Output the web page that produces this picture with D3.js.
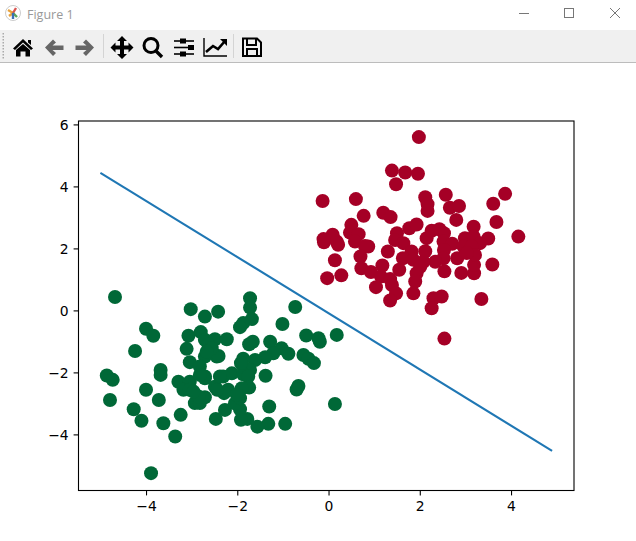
<!DOCTYPE html>
<html>
<head>
<meta charset="utf-8">
<script src="https://cdn.jsdelivr.net/npm/d3@7"></script>
<style>
  html, body { margin: 0; padding: 0; background: #fff; overflow: hidden; }
  svg { display: block; }
  .tick text { font-family: "DejaVu Sans", sans-serif; font-size: 13.9px; fill: #000; }
</style>
</head>
<body>
<div id="chart"></div>
<script>
const redPoints = [
  [1.98,5.59],[1.39,4.51],[1.68,4.45],[1.96,4.41],[1.48,4.07],[-0.13,3.53],[0.60,3.59],[0.77,3.05],
  [1.20,3.15],[1.36,3.01],[2.12,3.65],[2.17,3.43],[2.17,3.21],[2.57,3.73],[2.66,3.31],[2.86,3.37],
  [2.80,2.92],[3.61,3.44],[3.87,3.76],[3.68,2.85],[4.16,2.38],[0.50,2.76],[0.47,2.51],[0.66,2.46],
  [0.09,2.44],[-0.10,2.20],[-0.11,2.30],[0.21,2.12],[0.18,2.22],[0.58,2.22],[0.87,2.06],[0.80,2.08],
  [0.70,1.74],[0.14,1.62],[0.72,1.36],[0.28,1.13],[-0.03,1.04],[0.93,1.24],[1.18,1.45],[1.15,1.09],
  [1.04,0.75],[1.35,1.01],[1.39,0.82],[1.48,0.55],[1.35,0.32],[1.55,1.31],[1.30,1.90],[1.50,2.49],
  [1.46,2.27],[1.64,2.17],[1.77,2.65],[1.93,2.77],[2.15,2.33],[2.26,2.57],[2.43,2.62],[2.53,2.49],
  [2.52,2.22],[2.71,2.15],[2.53,1.95],[2.52,1.68],[2.34,1.57],[2.54,1.26],[2.12,1.91],[1.82,1.90],
  [1.63,1.68],[1.86,1.63],[2.08,1.57],[2.01,1.41],[1.93,1.20],[1.90,0.93],[1.86,0.55],[2.30,0.39],
  [2.48,0.45],[2.26,0.07],[3.35,0.37],[2.54,-0.91],[2.82,1.68],[2.91,1.21],[3.19,1.20],[3.19,1.47],
  [3.59,1.48],[3.18,2.70],[3.50,2.32],[2.99,2.33],[3.18,2.38],[3.32,2.17],[2.96,2.06],[3.14,2.06],
  [3.21,1.79],[3.03,1.85]
];
const greenPoints = [
  [-4.68,0.43],[-3.02,0.04],[-2.71,-0.20],[-2.42,-0.04],[-4.00,-0.59],[-3.84,-0.82],[-4.24,-1.31],
  [-3.07,-0.82],[-3.11,-1.24],[-2.80,-0.70],[-2.71,-0.95],[-2.49,-0.93],[-3.04,-1.67],[-2.71,-1.49],
  [-2.82,-1.81],[-2.71,-2.13],[-2.45,-1.49],[-3.68,-1.92],[-3.68,-2.08],[-4.86,-2.10],[-4.73,-2.24],
  [-3.29,-2.30],[-3.04,-2.30],[-1.72,0.39],[-1.72,0.09],[-1.68,-0.28],[-1.87,-0.41],[-1.94,-0.54],
  [-0.73,0.11],[-1.01,-0.44],[0.18,-0.79],[-0.49,-0.81],[-0.22,-0.90],[-0.19,-1.01],[-1.28,-1.01],
  [-1.66,-1.01],[-1.74,-1.09],[-2.23,-0.93],[-2.41,-1.47],[-1.03,-1.22],[-0.88,-1.40],[-1.21,-1.38],
  [-1.39,-1.51],[-1.61,-1.60],[-1.87,-1.56],[-0.55,-1.44],[-0.44,-1.56],[-0.32,-1.70],[-1.38,-2.11],
  [-2.12,-2.03],[-2.31,-2.13],[-1.87,-1.81],[-1.72,-1.92],[-1.87,-2.06],[-1.76,-2.13],[-0.66,-2.44],
  [-0.70,-2.55],[0.14,-3.02],[-1.30,-3.10],[-0.95,-3.66],[-1.32,-3.66],[-1.56,-3.75],[-1.78,-3.50],
  [-1.92,-3.53],[-2.47,-3.50],[-2.27,-3.21],[-1.94,-3.19],[-2.05,-3.00],[-1.94,-2.83],[-1.74,-2.49],
  [-1.90,-2.51],[-2.20,-2.56],[-2.29,-2.67],[-2.49,-2.46],[-2.44,-2.56],[-4.79,-2.89],[-4.00,-2.56],
  [-3.72,-2.89],[-4.27,-3.19],[-4.10,-3.56],[-3.62,-3.64],[-3.24,-3.37],[-3.36,-4.07],[-3.89,-5.25],
  [-3.18,-2.56],[-3.04,-2.56],[-2.71,-2.19],[-2.93,-2.99],[-2.82,-2.99],[-2.71,-2.80],[-2.85,-2.78],
  [-2.96,-2.62],[-2.63,-1.11],[-2.56,-1.22],[-2.67,-1.33],[-2.38,-2.13],[-2.01,-2.72],[-2.82,-2.08],
  [-1.92,-1.70]
];
const boundary = [[-5.0,4.44],[4.9,-4.53]];
const xTicks = [-4,-2,0,2,4];
const yTicks = [-4,-2,0,2,4,6];
const xDomain = [-5.48,5.38];
const yDomain = [-5.81,6.11];

const svg = d3.select("#chart").append("svg").attr("width",636).attr("height",541);

// window chrome
svg.append("rect").attr("width",636).attr("height",541).attr("fill","#fff");
const logo = svg.append("g").attr("transform","translate(13,13)");
logo.append("circle").attr("r",7.5).attr("fill","#fff").attr("stroke","#ccc");
[["#e8a33d",-5,-3],["#e8a33d",-4,3],["#d9534f",3,-5],["#5aa55a",4,4],["#3b6fb5",0,6]].forEach(d => {
  logo.append("line").attr("x1",0).attr("y1",0).attr("x2",d[1]).attr("y2",d[2])
    .attr("stroke",d[0]).attr("stroke-width",2.4);
});
svg.append("text").attr("x",27).attr("y",18.5).text("Figure 1")
  .attr("font-family","'Open Sans', sans-serif").attr("font-size",12.5).attr("fill","#999");
const win = svg.append("g").attr("stroke","#777").attr("fill","none");
win.append("line").attr("x1",519).attr("x2",529).attr("y1",13.5).attr("y2",13.5);
win.append("rect").attr("x",564.5).attr("y",8.5).attr("width",9).attr("height",9);
win.append("path").attr("d","M610,8L620,18M620,8L610,18");

svg.append("rect").attr("y",30).attr("width",636).attr("height",32).attr("fill","#f0f0f0");
svg.append("line").attr("x1",0).attr("x2",636).attr("y1",62.5).attr("y2",62.5).attr("stroke","#bcbcbc");
d3.range(33,60,3).forEach(y => {
  svg.append("rect").attr("x",2.5).attr("y",y).attr("width",1.5).attr("height",1.5).attr("fill","#aaa");
});
[103.5,233.5].forEach(x => {
  svg.append("line").attr("x1",x).attr("x2",x).attr("y1",34).attr("y2",58).attr("stroke","#d4d4d4");
});
const icons = svg.append("g");
// home
icons.append("path").attr("fill","#000")
  .attr("d","M23,39L33,48.5L31,50L23,42.5L15,50L13,48.5ZM16,50L23,44L30,50V56.5H25.5V51.5H20.5V56.5H16ZM28,40H31V45L28,42.5Z");
// back, forward
icons.append("path").attr("fill","#666")
  .attr("d","M45,47.5L53,39.5L56,42.5L52.5,45.5H63.5V50H52.5L56,53L53,56Z");
icons.append("path").attr("fill","#666")
  .attr("d","M94,47.5L86,39.5L83,42.5L86.5,45.5H75.5V50H86.5L83,53L86,56Z");
// pan
icons.append("path").attr("fill","#000")
  .attr("d","M122,36L127,41H124V45.5H128.5V42.5L133.5,47.5L128.5,52.5V49.5H124V54H127L122,59L117,54H120V49.5H115.5V52.5L110.5,47.5L115.5,42.5V45.5H120V41H117Z");
// zoom
icons.append("circle").attr("cx",151).attr("cy",45.5).attr("r",7).attr("fill","none").attr("stroke","#000").attr("stroke-width",3);
icons.append("line").attr("x1",156).attr("y1",51).attr("x2",162).attr("y2",57).attr("stroke","#000").attr("stroke-width",3.4);
// sliders
[[41,180],[47.5,188],[54,180]].forEach(d => {
  icons.append("line").attr("x1",174).attr("x2",194).attr("y1",d[0]).attr("y2",d[0]).attr("stroke","#000").attr("stroke-width",1.6);
  icons.append("rect").attr("x",d[1]).attr("y",d[0]-2.5).attr("width",6).attr("height",5).attr("fill","#000");
});
// chart icon
icons.append("path").attr("fill","none").attr("stroke","#000").attr("stroke-width",1.4).attr("d","M204,38V56H227");
icons.append("path").attr("fill","none").attr("stroke","#000").attr("stroke-width",2.6).attr("d","M206,52L213,46L218,49L225,41");
icons.append("path").attr("fill","#000").attr("d","M220,39H227V46Z");
// save
icons.append("path").attr("fill","none").attr("stroke","#000").attr("stroke-width",2)
  .attr("d","M243,38.5H257L261,42.5V56H243ZM247,38.5V45H256V38.5M247,56V49H257V56");

// plot
const x = d3.scaleLinear().domain(xDomain).range([78.5,574]);
const y = d3.scaleLinear().domain(yDomain).range([490.5,121]);

const marks = [
  {pts: redPoints, color: "#a50026"},
  {pts: greenPoints, color: "#006837"}
];
marks.forEach(m => {
  svg.append("g").selectAll("circle").data(m.pts).join("circle")
    .attr("cx", d => x(d[0]))
    .attr("cy", d => y(d[1]))
    .attr("r", 7)
    .attr("fill", m.color);
});

const line = d3.line().x(d => x(d[0])).y(d => y(d[1]));
svg.append("path").datum(boundary).attr("d", line)
  .attr("fill","none").attr("stroke","#1f77b4").attr("stroke-width",2.08);

const xAxis = svg.append("g").attr("transform","translate(0,490.5)")
  .call(d3.axisBottom(x).tickValues(xTicks).tickSize(4.9).tickPadding(5.4).tickSizeOuter(0));
const yAxis = svg.append("g").attr("transform","translate(78.5,0)")
  .call(d3.axisLeft(y).tickValues(yTicks).tickSize(4.9).tickPadding(4.9).tickSizeOuter(0));
yAxis.selectAll("text").attr("dy","0.38em");
[xAxis,yAxis].forEach(a => {
  a.selectAll("line").attr("stroke-width",1.1).attr("stroke","#000");
  a.select(".domain").remove();
});
svg.append("rect").attr("x",78.5).attr("y",121).attr("width",495.5).attr("height",369.5)
  .attr("fill","none").attr("stroke","#000").attr("stroke-width",1.1);
</script>
</body>
</html>
